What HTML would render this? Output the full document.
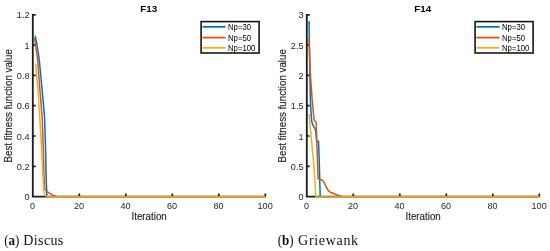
<!DOCTYPE html>
<html><head><meta charset="utf-8"><title>Figure</title>
<style>
html,body{margin:0;padding:0;background:#fff;}
body{width:550px;height:251px;overflow:hidden;}
svg{display:block;}
.t{font-family:"Liberation Sans",Arial,sans-serif;font-size:9.3px;fill:#262626;}
.l{font-family:"Liberation Sans",Arial,sans-serif;font-size:10.4px;fill:#262626;stroke:#262626;stroke-width:0.15;}
.h{font-family:"Liberation Sans",Arial,sans-serif;font-size:9.8px;font-weight:bold;fill:#000;}
.lg{font-family:"Liberation Sans",Arial,sans-serif;font-size:8.5px;fill:#000;}
.c{font-family:"Liberation Serif","Times New Roman",serif;font-size:14px;fill:#111;}
.ax{stroke:#1c1c1c;stroke-width:1.8;fill:none;}
.tk{stroke:#1c1c1c;stroke-width:1.7;fill:none;}
.ln{fill:none;stroke-width:1.5;stroke-linejoin:round;}
</style></head>
<body>
<svg width="550" height="251" viewBox="0 0 550 251">
<rect width="550" height="251" fill="#fff"/>
<g>
<text class="h" x="148.8" y="11.7" text-anchor="middle">F13</text>
<path class="ax" d="M32.8,13.9 V196.6 H266.1"/>
<path class="tk" d="M32.8,14.8 h2.9 M32.8,45.1 h2.9 M32.8,75.4 h2.9 M32.8,105.7 h2.9 M32.8,136.0 h2.9 M32.8,166.3 h2.9"/>
<path class="tk" d="M79.3,196.6 v-3.0 M125.8,196.6 v-3.0 M172.3,196.6 v-3.0 M218.8,196.6 v-3.0 M265.3,196.6 v-3.0"/>
<polyline class="ln" stroke="#0072BD" points="35.2,35.7 37.4,47.5 39.3,60.0 42.1,90.0 44.5,116.0 45.6,150.0 46.2,180.0 46.9,196.7 265.8,196.7"/>
<polyline class="ln" stroke="#D95319" points="34.6,37.8 37.7,60.0 39.9,90.0 42.2,118.0 43.3,150.0 44.0,175.0 44.7,189.3 45.9,190.5 48.9,192.9 50.7,193.9 53.0,195.3 56.7,196.8 265.8,196.8"/>
<polyline class="ln" stroke="#EDB120" points="35.6,63.5 38.0,90.0 39.9,120.0 41.7,150.0 42.9,175.0 44.1,193.0 45.5,195.5 48.3,196.9 265.8,196.95"/>
<g class="t" text-anchor="end">
<text transform="translate(29.5,18.4) scale(0.98,1.07)">1.2</text>
<text transform="translate(29.5,48.7) scale(0.98,1.07)">1</text>
<text transform="translate(29.5,79.0) scale(0.98,1.07)">0.8</text>
<text transform="translate(29.5,109.3) scale(0.98,1.07)">0.6</text>
<text transform="translate(29.5,139.6) scale(0.98,1.07)">0.4</text>
<text transform="translate(29.5,169.9) scale(0.98,1.07)">0.2</text>
<text transform="translate(29.5,200.2) scale(0.98,1.07)">0</text>
</g>
<g class="t" text-anchor="middle">
<text transform="translate(32.6,208.9) scale(0.98,1.03)">0</text>
<text transform="translate(79.1,208.9) scale(0.98,1.03)">20</text>
<text transform="translate(125.6,208.9) scale(0.98,1.03)">40</text>
<text transform="translate(172.1,208.9) scale(0.98,1.03)">60</text>
<text transform="translate(218.6,208.9) scale(0.98,1.03)">80</text>
<text transform="translate(265.1,208.9) scale(0.98,1.03)">100</text>
</g>
<text class="l" transform="translate(149.1,220.4) scale(0.94,1)" text-anchor="middle">Iteration</text>
<text class="l" transform="translate(12.1,105.8) rotate(-90) scale(0.94,1)" text-anchor="middle">Best fitness function value</text>
<rect x="201.1" y="21.6" width="58" height="31.4" fill="#fff" stroke="#161616" stroke-width="1.6"/>
<path d="M202.5,26.8 h23" stroke="#0072BD" stroke-width="1.8"/>
<text class="lg" transform="translate(228.0,29.9) scale(0.91,1.04)">Np=30</text>
<path d="M202.5,37.6 h23" stroke="#D95319" stroke-width="1.8"/>
<text class="lg" transform="translate(228.0,40.7) scale(0.91,1.04)">Np=50</text>
<path d="M202.5,47.8 h23" stroke="#EDB120" stroke-width="1.8"/>
<text class="lg" transform="translate(228.0,50.9) scale(0.91,1.04)">Np=100</text>
<text class="c" x="4.2" y="244.6" textLength="15.2" lengthAdjust="spacingAndGlyphs">(<tspan font-weight="bold">a</tspan>)</text>
<text class="c" x="23.3" y="244.6" textLength="40" lengthAdjust="spacing">Discus</text>
</g>
<g>
<text class="h" x="422.8" y="11.7" text-anchor="middle">F14</text>
<path class="ax" d="M306.8,13.9 V196.6 H540.1"/>
<path class="tk" d="M306.8,14.8 h2.9 M306.8,45.1 h2.9 M306.8,75.4 h2.9 M306.8,105.7 h2.9 M306.8,136.0 h2.9 M306.8,166.3 h2.9"/>
<path class="tk" d="M353.3,196.6 v-3.0 M399.8,196.6 v-3.0 M446.3,196.6 v-3.0 M492.8,196.6 v-3.0 M539.3,196.6 v-3.0"/>
<polyline class="ln" stroke="#0072BD" points="309.0,21.0 310.4,100.0 311.0,112.0 311.7,121.5 312.9,125.0 315.5,130.0 316.7,141.3 318.5,141.3 319.2,160.0 320.2,196.7 539.8,196.7"/>
<polyline class="ln" stroke="#D95319" points="309.0,38.0 310.1,70.0 312.2,100.0 314.1,120.3 316.1,122.1 318.2,179.0 322.1,180.0 323.5,181.5 325.1,184.6 327.0,188.5 328.7,191.1 330.0,192.0 331.7,192.7 334.7,194.0 338.0,195.3 342.0,196.8 539.8,196.8"/>
<polyline class="ln" stroke="#EDB120" points="309.1,114.1 311.4,139.0 313.8,165.0 315.9,196.9 539.8,196.95"/>
<g class="t" text-anchor="end">
<text transform="translate(303.5,18.4) scale(0.98,1.07)">3</text>
<text transform="translate(303.5,48.7) scale(0.98,1.07)">2.5</text>
<text transform="translate(303.5,79.0) scale(0.98,1.07)">2</text>
<text transform="translate(303.5,109.3) scale(0.98,1.07)">1.5</text>
<text transform="translate(303.5,139.6) scale(0.98,1.07)">1</text>
<text transform="translate(303.5,169.9) scale(0.98,1.07)">0.5</text>
<text transform="translate(303.5,200.2) scale(0.98,1.07)">0</text>
</g>
<g class="t" text-anchor="middle">
<text transform="translate(306.6,208.9) scale(0.98,1.03)">0</text>
<text transform="translate(353.1,208.9) scale(0.98,1.03)">20</text>
<text transform="translate(399.6,208.9) scale(0.98,1.03)">40</text>
<text transform="translate(446.1,208.9) scale(0.98,1.03)">60</text>
<text transform="translate(492.6,208.9) scale(0.98,1.03)">80</text>
<text transform="translate(539.1,208.9) scale(0.98,1.03)">100</text>
</g>
<text class="l" transform="translate(423.1,220.4) scale(0.94,1)" text-anchor="middle">Iteration</text>
<text class="l" transform="translate(286.1,105.8) rotate(-90) scale(0.94,1)" text-anchor="middle">Best fitness function value</text>
<rect x="475.1" y="21.6" width="58" height="31.4" fill="#fff" stroke="#161616" stroke-width="1.6"/>
<path d="M476.5,26.8 h23" stroke="#0072BD" stroke-width="1.8"/>
<text class="lg" transform="translate(502.0,29.9) scale(0.91,1.04)">Np=30</text>
<path d="M476.5,37.6 h23" stroke="#D95319" stroke-width="1.8"/>
<text class="lg" transform="translate(502.0,40.7) scale(0.91,1.04)">Np=50</text>
<path d="M476.5,47.8 h23" stroke="#EDB120" stroke-width="1.8"/>
<text class="lg" transform="translate(502.0,50.9) scale(0.91,1.04)">Np=100</text>
<text class="c" x="277.7" y="244.6" textLength="16.0" lengthAdjust="spacingAndGlyphs">(<tspan font-weight="bold">b</tspan>)</text>
<text class="c" x="298.09999999999997" y="244.6" textLength="60" lengthAdjust="spacing">Griewank</text>
</g>
</svg>
</body></html>
